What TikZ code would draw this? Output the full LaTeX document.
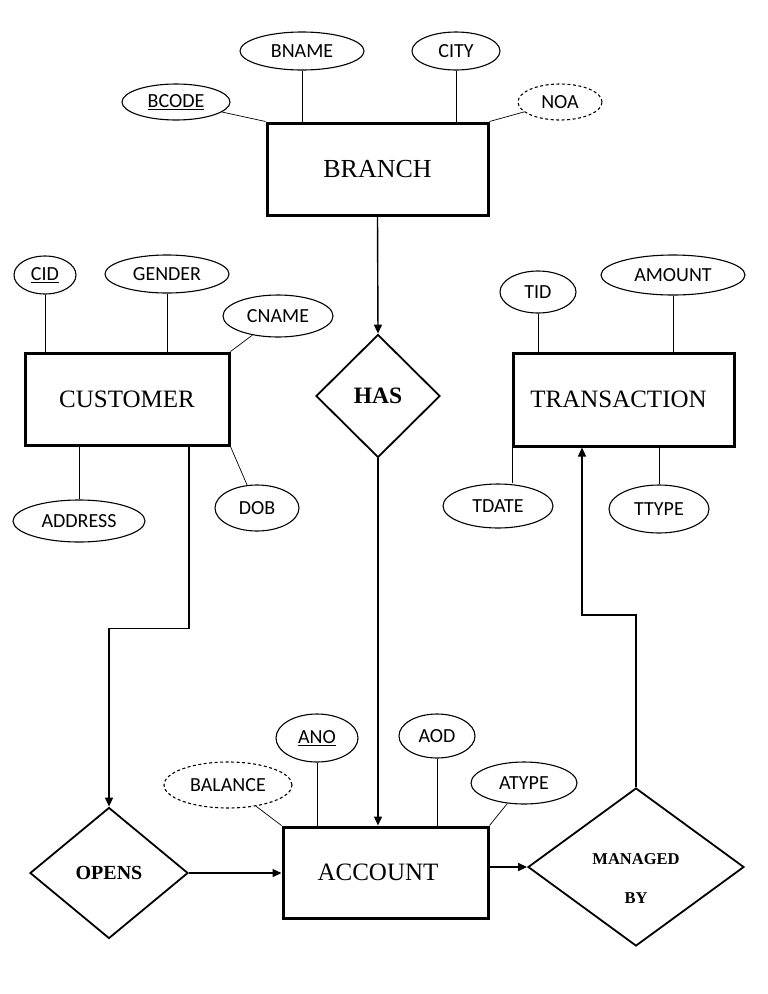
\documentclass[tikz,border=0pt]{standalone}
\usepackage{fontspec}
\setmainfont{Liberation Serif}
\newfontfamily\attrfont{Carlito}
\usetikzlibrary{shapes.geometric,arrows.meta}
\tikzset{
  ent/.style={draw, line width=3pt, inner sep=0pt, font=\fontsize{25}{28}\selectfont},
  att/.style={draw, ellipse, line width=1.1pt, inner sep=0pt, font=\attrfont\fontsize{20}{22}\selectfont},
  der/.style={att, dash pattern=on 3pt off 2.5pt},
  rel/.style={draw, diamond, line width=1.8pt, inner sep=0pt, font=\bfseries},
  ln/.style={line width=0.7pt},
  arr/.style={line width=1.4pt, -{Triangle[length=9pt,width=8pt]}}
}
\begin{document}
\begin{tikzpicture}[x=1pt,y=-1pt]
\useasboundingbox (0,0) rectangle (768,994);
% entities
\node[ent, minimum width=221pt, minimum height=92pt, font=\fontsize{26}{28}\selectfont] (branch) at (377.5,169) {BRANCH};
\node[ent, minimum width=204pt, minimum height=92pt] (customer) at (127,399) {CUSTOMER};
\node[ent, minimum width=221pt, minimum height=93pt] (transaction) at (623.5,399.5) {TRANSACTION\kern10pt};
\node[ent, minimum width=205pt, minimum height=91pt] (account) at (385.5,872.5) {ACCOUNT\kern15pt};
% relationships
\node[rel, minimum width=124pt, minimum height=123pt, aspect=1.0, font=\bfseries\fontsize{23.5}{26}\selectfont] (has) at (378,396) {HAS};
\node[rel, minimum width=158pt, minimum height=131pt, aspect=1.2, font=\bfseries\fontsize{20}{22}\selectfont] (opens) at (109,873) {OPENS};
\node[rel, minimum width=216pt, minimum height=158pt, aspect=1.37, font=\bfseries\fontsize{16.5}{39}\selectfont] (managed) at (636,867) {\raisebox{-14pt}[0pt][0pt]{\begin{tabular}{c}MANAGED\\BY\end{tabular}}};
% attributes
\node[att, minimum width=108pt, minimum height=36pt] (bcode) at (176,102) {\underline{BCODE}};
\node[att, minimum width=124pt, minimum height=38pt] (bname) at (302,51) {BNAME};
\node[att, minimum width=88pt, minimum height=38pt] (city) at (456,51) {CITY};
\node[der, minimum width=84pt, minimum height=36pt] (noa) at (560,102) {NOA};
\node[att, minimum width=62pt, minimum height=38pt] (cid) at (45,275) {\underline{CID}};
\node[att, minimum width=124pt, minimum height=38pt] (gender) at (167,274) {GENDER};
\node[att, minimum width=110pt, minimum height=42pt] (cname) at (278,316) {CNAME};
\node[att, minimum width=132pt, minimum height=42pt] (address) at (79,521) {ADDRESS};
\node[att, minimum width=84pt, minimum height=46pt] (dob) at (257,508) {DOB};
\node[att, minimum width=76pt, minimum height=42pt] (tid) at (538,292) {TID};
\node[att, minimum width=144pt, minimum height=40pt] (amount) at (673,275) {AMOUNT};
\node[att, minimum width=110pt, minimum height=44pt] (tdate) at (498,506) {TDATE};
\node[att, minimum width=100pt, minimum height=48pt] (ttype) at (659,509) {TTYPE};
\node[att, minimum width=82pt, minimum height=48pt] (ano) at (317,738) {\underline{ANO}};
\node[att, minimum width=76pt, minimum height=44pt] (aod) at (437,736) {AOD};
\node[der, minimum width=128pt, minimum height=46pt] (balance) at (228,785) {BALANCE};
\node[att, minimum width=106pt, minimum height=42pt] (atype) at (524,783) {ATYPE};
% attribute lines
\draw[ln] (bcode) -- (branch.north west);
\draw[ln] (bname.south) -- (bname.south |- branch.north);
\draw[ln] (city.south) -- (city.south |- branch.north);
\draw[ln] (noa) -- (branch.north east);
\draw[ln] (cid.south) -- (cid.south |- customer.north);
\draw[ln] (gender.south) -- (gender.south |- customer.north);
\draw[ln] (cname) -- (customer.north east);
\draw[ln] (address.north) -- (address.north |- customer.south);
\draw[ln] (dob) -- (customer.south east);
\draw[ln] (tid.south) -- (tid.south |- transaction.north);
\draw[ln] (amount.south) -- (amount.south |- transaction.north);
\draw[ln] ([xshift=14pt]tdate.north) -- ([xshift=14pt]tdate.north |- transaction.south);
\draw[ln] (ttype.north) -- (ttype.north |- transaction.south);
\draw[ln] (ano.south) -- (ano.south |- account.north);
\draw[ln] (aod.south) -- (aod.south |- account.north);
\draw[ln] (balance) -- (account.north west);
\draw[ln] (atype) -- (account.north east);
% relationship connectors
\draw[arr] (branch.south) -- (has.north);
\draw[arr] (has.south) -- (has.south |- account.north);
\draw[arr] ([xshift=62pt]customer.south) -- ++(0,182) -| (opens.north);
\draw[arr] (opens.east) -- (opens.east -| account.west);
\draw[arr] ([yshift=5.5pt]account.east) -- (managed.west);
\draw[arr] (managed.north) -- ++(0,-172) -| ([xshift=-41.5pt]transaction.south);
\end{tikzpicture}
\end{document}
